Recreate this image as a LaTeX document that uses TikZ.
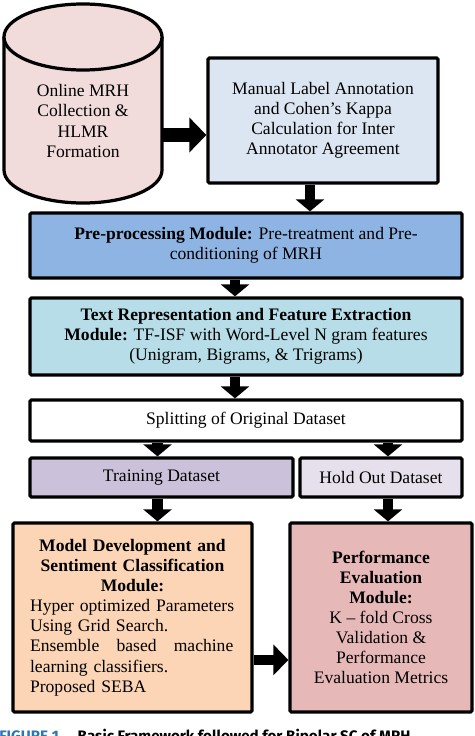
\documentclass[tikz,border=0pt]{standalone}
\usepackage{fontspec}
\setmainfont{Liberation Serif}
\newfontfamily\capfont{Fira Sans}
\usetikzlibrary{arrows.meta,positioning}
\definecolor{cylfill}{HTML}{F2DCDB}
\definecolor{manfill}{HTML}{DCE6F2}
\definecolor{prefill}{HTML}{8EB4E3}
\definecolor{txtfill}{HTML}{B7DEE8}
\definecolor{trnfill}{HTML}{CCC1DA}
\definecolor{hldfill}{HTML}{E6E0EC}
\definecolor{mdlfill}{HTML}{FBD5B5}
\definecolor{prffill}{HTML}{E6B9B8}
\definecolor{capblue}{HTML}{2E75B6}
\newcommand{\DB}{Online MRH\\Collection \&\\HLMR\\Formation}
\newcommand{\MAN}{Manual Label Annotation\\and Cohen's Kappa\\Calculation for Inter\\Annotator Agreement}
\newcommand{\PRE}{\textbf{Pre-processing Module:} Pre-treatment and Pre-\\conditioning of MRH}
\newcommand{\TXT}{\textbf{Text Representation and Feature Extraction}\\\textbf{Module:} TF-ISF with Word-Level N gram features\\(Unigram, Bigrams, \& Trigrams)}
\newcommand{\MDL}{{\centering\bfseries Model Development and\\Sentiment Classification\\Module:\par}Hyper optimized Parameters\\Using Grid Search.\\\makebox[5.08cm]{Ensemble\hfill based\hfill machine}\\learning classifiers.\\Proposed SEBA}
\newcommand{\PRF}{\textbf{Performance}\\\textbf{Evaluation}\\\textbf{Module:}\\K -- fold Cross\\Validation \&\\Performance\\Evaluation Metrics}

\begin{document}
\begin{tikzpicture}[x=0.025cm,y=-0.025cm,
    box/.style={draw,line width=2.3pt,rounded corners=1pt,align=center,inner sep=2pt,
        font=\fontsize{12.5}{14.3}\selectfont},
    arr/.style={line width=0.25cm,-{Triangle[width=0.7cm,length=0.3cm]}},
    bigarr/.style={line width=0.35cm,-{Triangle[width=0.85cm,length=0.425cm]}},
    midarr/.style={line width=0.25cm,-{Triangle[width=0.75cm,length=0.375cm]}}]
    \useasboundingbox (0,0) rectangle (474,736);
    \filldraw[fill=cylfill,line width=2.3pt] (4,37) -- (4,170)
        arc[start angle=180,end angle=360,x radius=1.975cm,y radius=0.825cm] -- (162,37);
    \filldraw[fill=cylfill,line width=2.3pt] (83,37) ellipse[x radius=1.975cm,y radius=0.825cm];
    \node[align=center,font=\fontsize{12.5}{14.3}\selectfont] (db) at (83,121) {\DB};
    \node[box,fill=manfill,minimum width=5.75cm,minimum height=3.125cm] (manual) at (323,120.5) {\MAN};
    \node[box,fill=prefill,minimum width=10.8cm,minimum height=1.625cm] (pre) at (246,245.5) {\PRE};
    \node[box,fill=txtfill,minimum width=10.8cm,minimum height=1.925cm] (txt) at (246,336.5) {\TXT};
    \node[box,fill=white,minimum width=10.8cm,minimum height=1.025cm] (split) at (246,420.5) {Splitting of Original Dataset};
    \node[box,fill=trnfill,minimum width=6.575cm,minimum height=0.975cm] (train) at (161.5,477.5) {Training Dataset};
    \node[box,fill=hldfill,minimum width=4.05cm,minimum height=0.975cm] (hold) at (381,477.5) {Hold Out Dataset};
    \node[box,fill=mdlfill,minimum width=5.975cm,minimum height=4.725cm,text width=5.12cm,align=left] (model) at (132.5,617.5) {\MDL};
    \node[box,fill=prffill,minimum width=4.55cm,minimum height=4.725cm] (perf) at (381,617.5) {\PRF};
    \coordinate (dbr) at (162,135);
    \coordinate (mdown) at ([xshift=-0.325cm]manual.south);
    \coordinate (tdown) at ([xshift=-0.1cm]train.south);
    \coordinate (hdown) at ([xshift=0.175cm]hold.south);
    \draw[bigarr] (dbr) -- (dbr -| manual.west);
    \draw[arr] (mdown) -- (mdown |- pre.north);
    \draw[arr] ([xshift=-0.275cm]pre.south) -- ([xshift=-0.275cm]txt.north);
    \draw[arr] ([xshift=-0.275cm]txt.south) -- ([xshift=-0.275cm]split.north);
    \draw[arr] (split.south -| tdown) -- (train.north -| tdown);
    \draw[arr] (split.south -| hdown) -- (hold.north -| hdown);
    \draw[arr] (tdown) -- (tdown |- model.north);
    \draw[arr] (hdown) -- (hdown |- perf.north);
    \draw[midarr] ([yshift=-1.06cm]model.east) -- ([yshift=-1.06cm]perf.west);
    \begin{scope}
        \clip (0,700) rectangle (474,736);
        \node[anchor=north west,inner sep=0pt,font=\capfont\bfseries\fontsize{10.8}{12}\selectfont] (cap) at (-1,729)
            {\textcolor{capblue}{FIGURE 1.}\quad Basic Framework followed for Bipolar SC of MRH};
    \end{scope}
\end{tikzpicture}
\end{document}
